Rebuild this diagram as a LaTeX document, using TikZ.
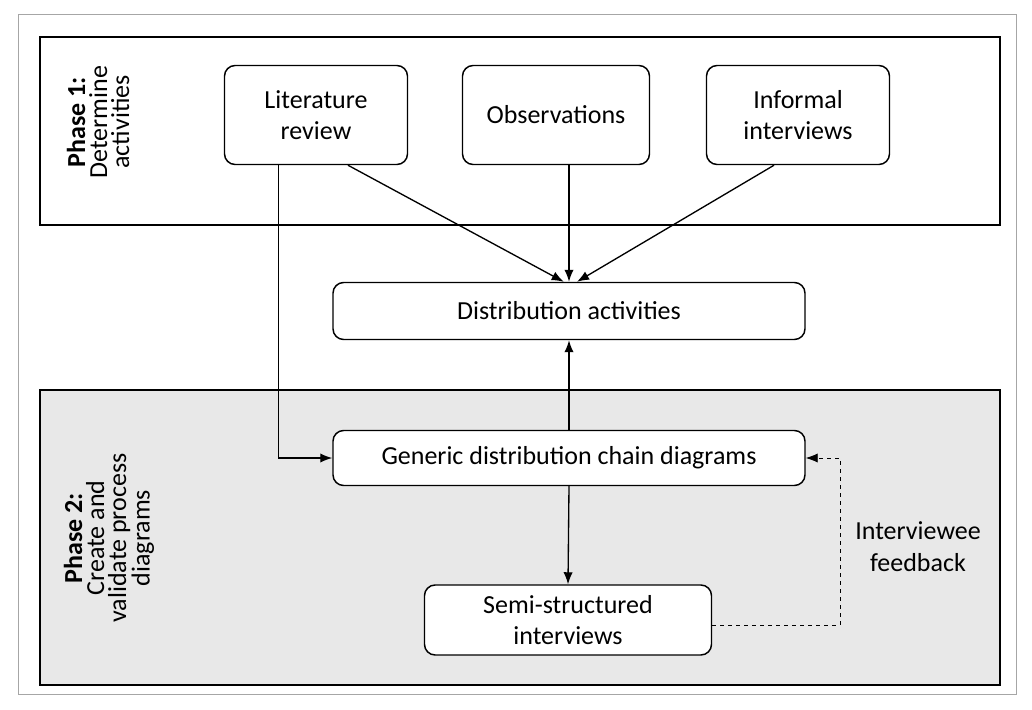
\documentclass[tikz,border=0pt]{standalone}
\usepackage{fontspec}
\setmainfont{Carlito}
\usetikzlibrary{arrows.meta}
\begin{document}
\begin{tikzpicture}[x=0.75pt,y=-0.75pt,
  box/.style={draw,line width=1.1pt,rounded corners=8pt,align=center,font=\fontsize{19.5}{23}\selectfont},
  arr/.style={-{Latex[length=9pt,width=7pt]},line width=1pt},
  lab/.style={align=center,font=\fontsize{19.5}{16.5}\selectfont,rotate=90}]
\useasboundingbox (0,0) rectangle (1032,710);
\draw[gray!70] (18,14) rectangle (1016,694);
\draw[line width=1.1pt] (40,37) rectangle (1000,225);
\draw[line width=1.1pt,fill=gray!18] (40,390) rectangle (1000,685);
\node[lab] (p1) at (98,122) {\textbf{Phase 1:}\\Determine\\activities};
\node[lab] (p2) at (109,538) {\textbf{Phase 2:}\\Create and\\validate process\\diagrams};
\node[box,minimum width=183pt*0.75,minimum height=99*0.75pt] (lit) at (316,115) {Literature\\review};
\node[box,minimum width=187*0.75pt,minimum height=99*0.75pt] (obs) at (556,115) {Observations};
\node[box,minimum width=183*0.75pt,minimum height=99*0.75pt] (inf) at (798,115) {Informal\\interviews};
\node[box,fill=white,minimum width=472*0.75pt,minimum height=57*0.75pt] (dist) at (569,311) {Distribution activities};
\node[box,fill=white,minimum width=472*0.75pt,minimum height=55*0.75pt] (gen) at (569,458) {Generic distribution chain diagrams};
\node[box,fill=white,minimum width=287*0.75pt,minimum height=70*0.75pt] (semi) at (568,620) {Semi-structured\\interviews};
\node[align=center,font=\fontsize{19.5}{24}\selectfont] (fb) at (918,547) {Interviewee\\feedback};
\draw[arr] ([xshift=24]lit.south) -- ([xshift=-4]dist.north);
\draw[arr] (obs.south -| dist.north) -- (dist.north);
\draw[arr] ([xshift=-18]inf.south) -- ([xshift=6]dist.north);
\draw[arr] ([xshift=-28]lit.south) |- (gen.west);
\draw[arr] (gen.north) -- (dist.south);
\draw[arr] (gen.south) -- (semi.north);
\coordinate (c1) at (840,625);
\draw[arr,dashed,line width=0.7pt] (semi.east |- c1) -- (c1) |- (gen.east);
\end{tikzpicture}
\end{document}
